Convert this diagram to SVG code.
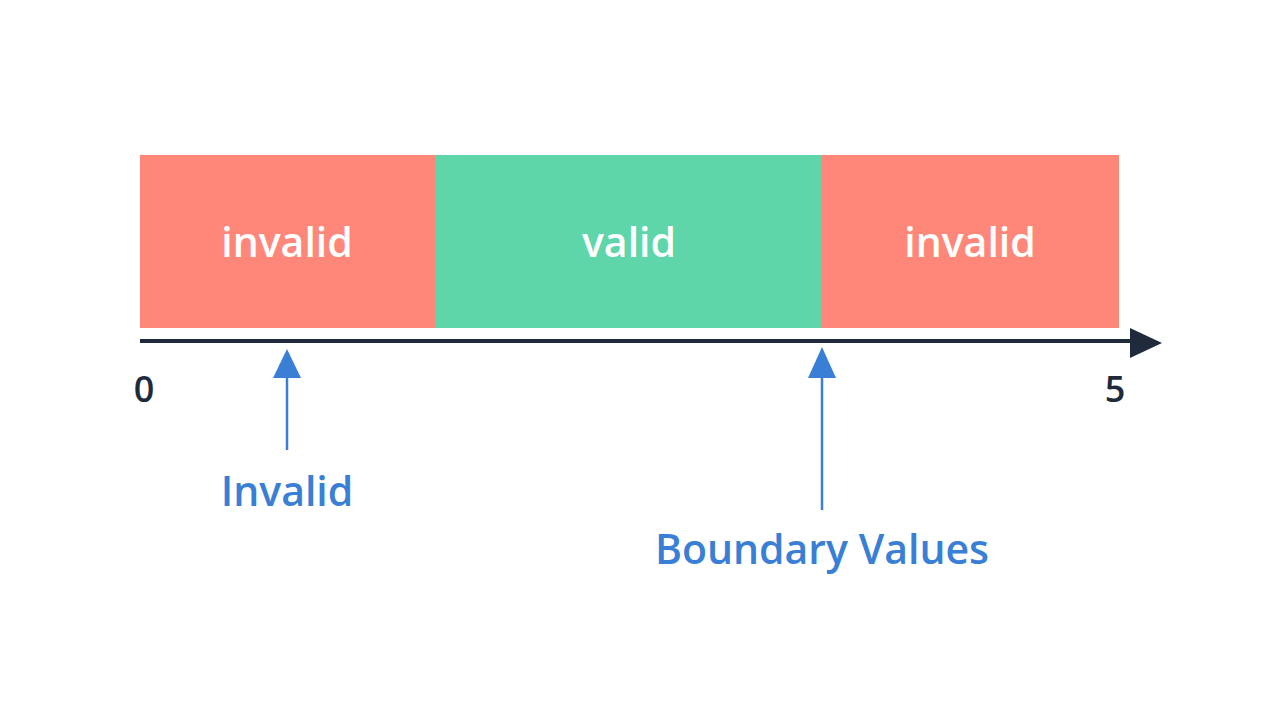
<svg xmlns="http://www.w3.org/2000/svg" width="1280" height="720" viewBox="0 0 1280 720">
<style>
.seg{font-family:"Open Sans","Liberation Sans",sans-serif;font-size:41px;font-weight:600;fill:#fff;text-anchor:middle}
.num{font-family:"Open Sans","Liberation Sans",sans-serif;font-size:36px;font-weight:600;fill:#1f2a3c;text-anchor:middle}
.lab{font-family:"Open Sans","Liberation Sans",sans-serif;font-size:41px;font-weight:600;fill:#3a7fd6;text-anchor:middle}
</style>
<rect width="1280" height="720" fill="#fff"/>
<g id="seg-invalid-left"><rect x="140" y="155" width="296" height="173" fill="#ff877a"/><text class="seg" x="287" y="257">invalid</text></g>
<g id="seg-valid"><rect x="435" y="155" width="388" height="173" fill="#5fd6aa"/><text class="seg" x="629" y="257">valid</text></g>
<g id="seg-invalid-right"><rect x="822" y="155" width="297" height="173" fill="#ff877a"/><text class="seg" x="970" y="257">invalid</text></g>
<g id="axis">
<line x1="140" y1="341" x2="1135" y2="341" stroke="#1f2a3c" stroke-width="4"/>
<polygon points="1130,328 1162,343 1130,358" fill="#1f2a3c"/>
<text class="num" x="144" y="402">0</text>
<text class="num" x="1115" y="402">5</text>
</g>
<g id="connectors" stroke="#3a7fd6" stroke-width="2.5" fill="#3a7fd6">
<line x1="287" y1="450" x2="287" y2="370"/>
<polygon points="273,378 287,349 301,378" stroke="none"/>
<line x1="822" y1="510" x2="822" y2="370"/>
<polygon points="808,378 822,347 836,378" stroke="none"/>
</g>
<g id="label-invalid"><text class="lab" x="287" y="506">Invalid</text></g>
<g id="label-boundary"><text class="lab" x="822" y="564">Boundary Values</text></g>
</svg>
